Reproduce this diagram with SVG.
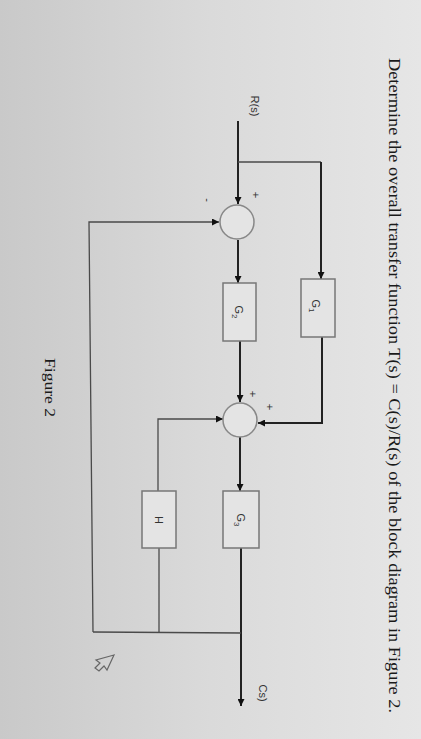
<svg xmlns="http://www.w3.org/2000/svg" width="421" height="739" viewBox="0 0 421 739">
<style>
.sig{fill:none;stroke:#222;stroke-width:2}
.thin{fill:none;stroke:#4a4a4a;stroke-width:1.3}
.blk{fill:#e4e4e4;stroke:#777;stroke-width:1.5}
.sum{fill:#e4e4e4;stroke:#888;stroke-width:1.5}
.lbl{font-family:"Liberation Sans",Arial,sans-serif;font-size:11px;fill:#333}
.ttl{font-family:"Liberation Serif","Times New Roman",serif;fill:#1a1a1a}
.pm{font-family:"Liberation Sans",Arial,sans-serif;font-size:11px;fill:#333}
</style>
<defs>
<linearGradient id="bg" x1="0" y1="0" x2="1" y2="0">
<stop offset="0" stop-color="#c9c9c9"/>
<stop offset="0.5" stop-color="#dadada"/>
<stop offset="1" stop-color="#e6e6e6"/>
</linearGradient>
<marker id="ah" viewBox="0 0 10 10" refX="10" refY="5" markerWidth="7" markerHeight="7" markerUnits="userSpaceOnUse" orient="auto">
<path d="M0,0 L10,5 L0,10 z" fill="#111"/>
</marker>
</defs>
<rect width="421" height="739" fill="url(#bg)"/>
<text class="ttl" font-size="17" transform="translate(389,58) rotate(90)" textLength="655" lengthAdjust="spacingAndGlyphs">Determine the overall transfer function T(s) = C(s)/R(s) of the block diagram in Figure 2.</text>
<text class="ttl" font-size="14" transform="translate(45,358) rotate(90)" textLength="59" lengthAdjust="spacingAndGlyphs" fill="#333">Figure 2</text>
<g id="connectors">
<path class="sig" d="M238,121 V204" marker-end="url(#ah)"/>
<path class="thin" d="M238,162 H321"/>
<path class="sig" d="M321,162 V279" marker-end="url(#ah)"/>
<path class="sig" d="M238,240 V283" marker-end="url(#ah)"/>
<path class="sig" d="M240,341 V402" marker-end="url(#ah)"/>
<path class="sig" d="M322,337 V423 H258" marker-end="url(#ah)"/>
<path class="sig" d="M240,437 V491" marker-end="url(#ah)"/>
<path class="sig" d="M241,548 V706" marker-end="url(#ah)"/>
<path class="thin" d="M241,633 L93,632"/>
<path class="thin" d="M159,632 V548"/>
<path class="thin" d="M158,491 V419 H223" marker-end="url(#ah)"/>
<path class="thin" d="M93,632 L89,222 H219" marker-end="url(#ah)"/>
</g>
<g id="R">
<text class="lbl" font-size="14" transform="translate(251,106) rotate(90)" text-anchor="middle">R(s)</text>
</g>
<g id="C">
<text class="lbl" font-size="13" transform="translate(259,693) rotate(90)" text-anchor="middle">Cs)</text>
</g>
<g id="sum1">
<circle class="sum" cx="237" cy="222" r="17"/>
<text class="pm" transform="translate(252,195) rotate(90)" text-anchor="middle">+</text>
<text class="pm" transform="translate(204,200) rotate(90)" text-anchor="middle">-</text>
</g>
<g id="sum2">
<circle class="sum" cx="240" cy="420" r="17"/>
<text class="pm" transform="translate(249,394) rotate(90)" text-anchor="middle">+</text>
<text class="pm" transform="translate(266,407) rotate(90)" text-anchor="middle">+</text>
</g>
<g id="G1">
<rect class="blk" x="301" y="279" width="34" height="58"/>
<text class="lbl" transform="translate(312,306) rotate(90)" text-anchor="middle">G<tspan font-size="8" dy="3">1</tspan></text>
</g>
<g id="G2">
<rect class="blk" x="223" y="283" width="33" height="58"/>
<text class="lbl" transform="translate(235,312) rotate(90)" text-anchor="middle">G<tspan font-size="8" dy="3">2</tspan></text>
</g>
<g id="G3">
<rect class="blk" x="223" y="491" width="36" height="57"/>
<text class="lbl" transform="translate(237,520) rotate(90)" text-anchor="middle">G<tspan font-size="8" dy="3">3</tspan></text>
</g>
<g id="H">
<rect class="blk" x="142" y="491" width="34" height="57"/>
<text class="lbl" transform="translate(155,520) rotate(90)" text-anchor="middle">H</text>
</g>
<g id="cursor">
<path d="M114,655 L96,660 L100,663 L95,668 L99,671 L104,666 L107,670 Z" fill="none" stroke="#666" stroke-width="1.2"/>
</g>
</svg>
